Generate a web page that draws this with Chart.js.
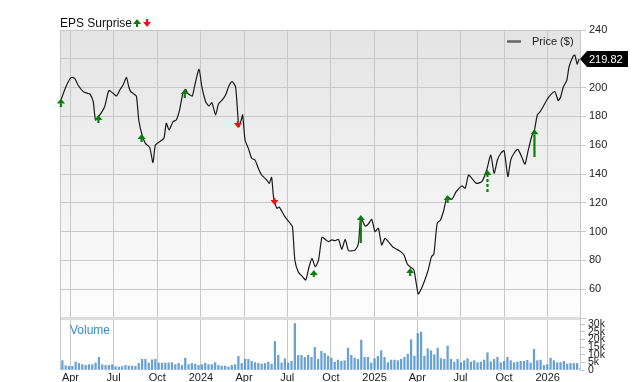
<!DOCTYPE html>
<html>
<head>
<meta charset="utf-8">
<script src="https://cdn.jsdelivr.net/npm/chart.js@4.4.1/dist/chart.umd.min.js"></script>
<style>
  body { margin: 0; background: #fff; }
  canvas { display: block; }
</style>
</head>
<body>
<canvas id="grafico" width="640" height="382"></canvas>
<script>
// days counted from 1 Apr 2023
const priceDays = [
  -20, -8, 2, 9, 16, 27, 36, 41, 48, 53, 62, 72, 81, 90, 97, 104, 111, 118, 123, 127,
  132, 139, 144, 151, 158, 167, 174, 179, 188, 197, 202, 208, 216, 223, 230, 237, 243, 246,
  252, 257, 263, 271, 277, 285, 292, 298, 306, 312, 320, 327, 334, 341, 348, 353, 355, 360,
  363, 368, 375, 382, 389, 396, 403, 414, 419, 424, 428, 435, 440, 445, 452, 463, 468, 473,
  480, 489, 496, 503, 509, 516, 523, 530, 537, 544, 551, 558, 565, 572, 579, 586, 593, 600,
  607, 612, 621, 628, 635, 642, 649, 656, 663, 670, 679, 688, 696, 703, 710, 717, 724, 733,
  740, 747, 754, 761, 766, 773, 780, 787, 794, 804, 813, 825, 832, 839, 846, 856, 867, 877,
  886, 893, 900, 907, 914, 922, 928, 935, 943, 951, 958, 965, 972, 978, 984, 990, 997, 1004,
  1012, 1021, 1028, 1033, 1039, 1046, 1051, 1059, 1063, 1068, 1072
];
const prices = [
  191.5, 201.8, 207.1, 206.4, 201.8, 197.2, 196, 195.6, 190.2, 177.5, 181, 186.7, 197.9, 196, 194.2, 198.3, 201.8, 207.1, 200.6, 197.2,
  196, 194, 177.5, 167.1, 161.3, 158.5, 147.9, 160.1, 162.4, 164.8, 175.2, 170.6, 176.3, 177.5, 184.4, 196, 198.8, 196.5,
  194.9, 194.2, 203, 212.7, 200.6, 190.2, 187.2, 189.5, 181, 188.6, 191.4, 194.9, 201.1, 204.1, 200.6, 179.8, 172.8, 177.5,
  181, 163.6, 157.8, 150.9, 149.7, 144, 139.3, 135.8, 133.5, 137.7, 124.2, 116.2, 117, 114.5, 110.4, 105.8, 103.4, 80.3,
  72.2, 68.7, 66.4, 75.6, 81.4, 75.6, 80.3, 96, 94.6, 93, 94.2, 93.7, 94.6, 87.7, 94.6, 86.7, 86.7, 87.2,
  91.8, 109.9, 103.9, 105.3, 108.5, 100, 102.3, 90.7, 95.3, 93, 89.5, 87.7, 86.1, 83.8, 77.5, 75.2, 73.3, 56.7,
  60.6, 66.4, 73.3, 82.6, 84.4, 105.8, 108.1, 115, 124.2, 122.4, 127.7, 131.7, 130.1, 139.3, 137, 133.5, 134.7, 142.3,
  153.2, 140.5, 149.7, 154.4, 156.2, 138.2, 149.7, 154.4, 157.1, 152, 146.9, 156.7, 165.9, 170.6, 181, 183.3, 187.2, 191.4,
  194.9, 197.2, 191, 193.3, 200.6, 204.8, 214.5, 221.5, 222.6, 216.4, 219.82
];

// weekly volume in thousands, first week starts at day -17
const volStart = -17;
const volume = [
  6.1, 2.8, 2.4, 2.4, 5.2, 4.3, 3.5, 3.0, 3.5, 3.5, 4.6, 8.3, 3.5, 3.0, 3.0, 3.5, 2.2, 2.0, 2.2, 3.0, 2.6, 2.6, 2.4,
  4.3, 7.0, 7.0, 4.6, 6.7, 7.0, 4.6, 4.6, 4.6, 4.6, 4.8, 3.5, 4.3, 3.0, 7.8, 3.5, 4.3, 3.9, 3.0, 3.5, 4.3, 3.5, 3.5, 4.8, 3.0, 2.6, 2.6, 2.0,
  3.0, 3.5, 8.9, 4.3, 7.0, 7.0, 5.7, 4.8, 4.3, 3.9, 4.3, 5.2, 3.9, 18.7, 9.6, 4.6, 7.4, 4.6, 5.7, 30.4, 9.6, 9.6, 8.3, 9.6, 8.3, 14.8, 7.0,
  12.2, 10.9, 9.1, 7.8, 5.2, 6.5, 5.7, 6.1, 14.3, 9.6, 7.8, 7.0, 19.6, 8.3, 8.3, 4.6, 7.4, 8.9, 12.6, 8.3, 4.8, 6.5, 6.5, 6.1, 7.0, 8.3, 10.4,
  19.8, 9.1, 23.9, 24.8, 9.1, 13.9, 12.6, 10.0, 14.3, 7.4, 7.0, 15.7, 7.0, 5.2, 7.0, 4.8, 6.1, 7.4, 5.2, 6.1, 4.8, 5.2, 6.5, 11.3, 5.4, 7.0,
  8.3, 4.8, 5.7, 8.3, 6.1, 4.8, 5.2, 5.7, 5.7, 6.3, 4.6, 13.5, 6.1, 6.5, 3.0, 3.5, 7.8, 6.1, 4.8, 4.8, 5.7, 3.9, 4.3, 4.3, 4.3, 1.3
];

// EPS surprise arrows: day, price at base, price at tip
const epsDays = [-20, 59, 150, 241, 353, 430, 513, 612, 716, 795, 879, 978];
const epsFrom = [186.5, 175.4, 162.2, 192.8, 176.8, 123.3, 68.5, 92.1, 69.2, 119.9, 127.5, 151.8];
const epsTo = [192.5, 181, 167.8, 199, 172, 118.5, 73.3, 111.5, 74.7, 125.4, 142.8, 171];
const epsDashed = [false, false, false, false, false, false, false, false, false, false, true, false];

const tickDates = ["2023-04-01", "2023-07-01", "2023-10-01", "2024-01-01", "2024-04-01", "2024-07-01",
  "2024-10-01", "2025-01-01", "2025-04-01", "2025-07-01", "2025-10-01", "2026-01-01"];
const tickLabels = ["Apr", "Jul", "Oct", "2024", "Apr", "Jul", "Oct", "2025", "Apr", "Jul", "Oct", "2026"];
const priceTicks = [40, 60, 80, 100, 120, 140, 160, 180, 200, 220, 240];
const volTicks = [0, 5, 10, 15, 20, 25, 30];
const lastPrice = 219.82;

const origem = Date.parse("2023-04-01");
const tickDays = tickDates.map((d) => (Date.parse(d) - origem) / 864e5);

const fonte = "'Liberation Sans', Arial, sans-serif";
Chart.defaults.font.family = fonte;
Chart.defaults.font.size = 11;
Chart.defaults.color = "#222";

function desenharSeta(ctx, x, yBase, yTip, cor, tracejada) {
  const dir = yTip < yBase ? -1 : 1;
  const cab = 5;
  ctx.save();
  ctx.strokeStyle = cor;
  ctx.fillStyle = cor;
  ctx.lineWidth = 2.2;
  if (tracejada) ctx.setLineDash([3, 2]);
  ctx.beginPath();
  ctx.moveTo(x, yBase);
  ctx.lineTo(x, yTip - dir * cab);
  ctx.stroke();
  ctx.setLineDash([]);
  ctx.beginPath();
  ctx.moveTo(x, yTip);
  ctx.lineTo(x - 4, yTip - dir * cab);
  ctx.lineTo(x + 4, yTip - dir * cab);
  ctx.closePath();
  ctx.fill();
  ctx.restore();
}

const extras = {
  id: "extras",
  beforeDraw(chart) {
    const { ctx, chartArea } = chart;
    const y = chart.scales.y;
    ctx.save();
    ctx.fillStyle = "#fff";
    ctx.fillRect(0, 0, chart.width, chart.height);
    const grad = ctx.createLinearGradient(0, y.top, 0, y.bottom);
    grad.addColorStop(0, "#e4e4e4");
    grad.addColorStop(1, "#fdfdfd");
    ctx.fillStyle = grad;
    ctx.fillRect(chartArea.left, y.top, chartArea.right - chartArea.left, y.bottom - y.top);
    ctx.restore();
  },
  afterDraw(chart) {
    const { ctx, chartArea } = chart;
    const x = chart.scales.x;
    const y = chart.scales.y;
    ctx.save();

    // separator between price and volume
    ctx.fillStyle = "#dcdcdc";
    ctx.fillRect(chartArea.left, y.bottom - 1, chartArea.right - chartArea.left, 3);

    // frame
    ctx.strokeStyle = "#c8c8c8";
    ctx.lineWidth = 1;
    ctx.beginPath();
    ctx.moveTo(chartArea.left + 0.5, chartArea.bottom);
    ctx.lineTo(chartArea.left + 0.5, chartArea.top + 0.5);
    ctx.lineTo(chartArea.right, chartArea.top + 0.5);
    ctx.stroke();

    // EPS arrows
    epsDays.forEach((d, i) => {
      const cor = epsTo[i] > epsFrom[i] ? "#0b7f0b" : "#f01010";
      desenharSeta(ctx, x.getPixelForValue(d), y.getPixelForValue(epsFrom[i]),
        y.getPixelForValue(epsTo[i]), cor, epsDashed[i]);
    });

    // title
    ctx.fillStyle = "#111";
    ctx.font = "12px " + fonte;
    ctx.textBaseline = "alphabetic";
    ctx.textAlign = "left";
    ctx.fillText("EPS Surprise", chartArea.left, 27);
    const w = ctx.measureText("EPS Surprise").width;
    desenharSeta(ctx, chartArea.left + w + 5, 27, 19, "#0b7f0b", false);
    desenharSeta(ctx, chartArea.left + w + 15, 19, 27, "#f01010", false);

    // legend
    ctx.strokeStyle = "#666";
    ctx.lineWidth = 2.5;
    ctx.beginPath();
    ctx.moveTo(507, 41.5);
    ctx.lineTo(521, 41.5);
    ctx.stroke();
    ctx.fillStyle = "#222";
    ctx.font = "11px " + fonte;
    ctx.textBaseline = "middle";
    ctx.fillText("Price ($)", 532, 42);

    // Volume label
    ctx.fillStyle = "#3a8ad0";
    ctx.font = "12px " + fonte;
    ctx.textBaseline = "alphabetic";
    ctx.fillText("Volume", chartArea.left + 10, 334);

    // last price tag
    const py = y.getPixelForValue(lastPrice);
    const px = chartArea.right;
    ctx.fillStyle = "#000";
    ctx.beginPath();
    ctx.moveTo(px, py);
    ctx.lineTo(px + 7, py - 8);
    ctx.lineTo(px + 48, py - 8);
    ctx.lineTo(px + 48, py + 8);
    ctx.lineTo(px + 7, py + 8);
    ctx.closePath();
    ctx.fill();
    ctx.fillStyle = "#fff";
    ctx.font = "11px " + fonte;
    ctx.textBaseline = "middle";
    ctx.textAlign = "left";
    ctx.fillText(lastPrice.toFixed(2), px + 9, py + 0.5);
    ctx.restore();
  }
};

new Chart(document.getElementById("grafico"), {
  type: "line",
  data: {
    datasets: [
      {
        label: "Price ($)",
        data: priceDays.map((d, i) => ({ x: d, y: prices[i] })),
        borderColor: "#1a1a1a",
        borderWidth: 1.2,
        pointRadius: 0,
        tension: 0.2,
        yAxisID: "y",
      },
      {
        type: "bar",
        label: "Volume",
        data: volume.map((v, i) => ({ x: volStart + 7 * i, y: v })),
        backgroundColor: "rgba(66, 138, 204, 0.8)",
        barThickness: 1.6,
        yAxisID: "vol",
      },
    ],
  },
  options: {
    responsive: false,
    animation: false,
    layout: { padding: { left: 60, top: 30, right: 0, bottom: 0 } },
    plugins: { legend: { display: false }, tooltip: { enabled: false } },
    scales: {
      x: {
        type: "linear",
        offset: false,
        min: -22,
        max: 1074,
        afterBuildTicks: (s) => { s.ticks = tickDays.map((v) => ({ value: v })); },
        afterFit: (s) => { s.height = 12; },
        ticks: {
          autoSkip: false,
          maxRotation: 0,
          padding: 1,
          font: { size: 11 },
          color: "#222",
          callback: (v) => tickLabels[tickDays.indexOf(v)],
        },
        grid: { color: "#c8c8c8", drawTicks: false, offset: false },
        border: { display: false },
      },
      y: {
        type: "linear",
        position: "right",
        stack: "painel",
        stackWeight: 288,
        min: 40,
        max: 240,
        afterBuildTicks: (s) => { s.ticks = priceTicks.map((v) => ({ value: v })); },
        afterFit: (s) => { s.width = 60; },
        ticks: {
          autoSkip: false,
          padding: 3,
          color: "#222",
          callback: (v) => (v === 40 ? "" : v),
        },
        grid: { color: "#c8c8c8", tickLength: 6 },
        border: { color: "#c8c8c8" },
      },
      vol: {
        type: "linear",
        position: "right",
        stack: "painel",
        stackWeight: 52,
        min: 0,
        max: 34,
        afterBuildTicks: (s) => { s.ticks = volTicks.map((v) => ({ value: v })); },
        afterFit: (s) => { s.width = 60; },
        ticks: {
          autoSkip: false,
          padding: 3,
          color: "#222",
          font: { size: 10.5 },
          callback: (v) => (v === 0 ? "0" : v + "k"),
        },
        grid: { drawOnChartArea: false, color: "#c8c8c8", tickLength: 5 },
        border: { color: "#c8c8c8" },
      },
    },
  },
  plugins: [extras],
});
</script>
</body>
</html>
